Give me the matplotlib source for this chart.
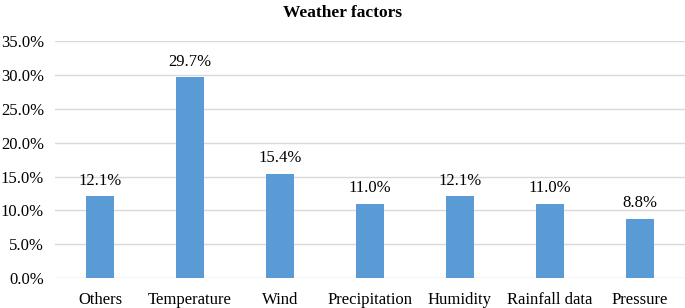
import matplotlib.pyplot as plt
from matplotlib.ticker import PercentFormatter

# Data
categories = ['Others', 'Temperature', 'Wind', 'Precipitation', 'Humidity', 'Rainfall data', 'Pressure']
shares = [12.1, 29.7, 15.4, 11.0, 12.1, 11.0, 8.8]
y_ticks = [0, 5, 10, 15, 20, 25, 30, 35]

plt.rcParams['font.family'] = ['Liberation Serif', 'DejaVu Serif']

fig = plt.figure(figsize=(6.85, 3.08), dpi=100)
ax = fig.add_axes([0.0803, 0.0974, 0.9197, 0.768])

x = range(len(categories))
bars = ax.bar(x, shares, width=0.31, color='#5B9BD5', zorder=3)

for b, v in zip(bars, shares):
    ax.text(b.get_x() + b.get_width() / 2, v + 1.1, f'{v:.1f}%',
            ha='center', va='bottom', fontsize=12)

ax.set_xlim(-0.5, len(categories) - 0.5)
ax.set_ylim(0, 35)
ax.set_yticks(y_ticks)
ax.yaxis.set_major_formatter(PercentFormatter(decimals=1))
ax.set_xticks(list(x))
ax.set_xticklabels(categories)
ax.tick_params(length=0, labelsize=12, colors='black')
ax.tick_params(axis='y', pad=8)
ax.tick_params(axis='x', pad=10)
ax.grid(axis='y', color='#d9d9d9', linewidth=1, zorder=0)
for s in ax.spines.values():
    s.set_visible(False)

fig.suptitle('Weather factors', y=0.985, fontsize=12.5, fontweight='bold')

fig.savefig('out.png', dpi=100)
